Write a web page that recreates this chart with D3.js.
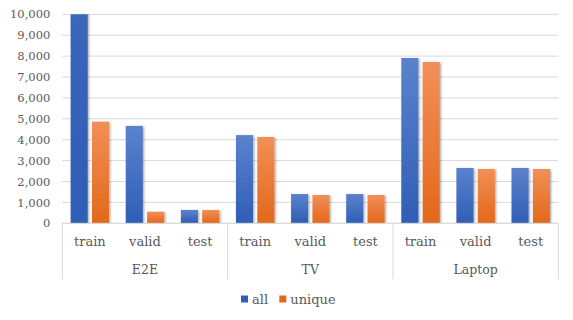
<!DOCTYPE html>
<html>
<head>
<meta charset="utf-8">
<script src="https://cdn.jsdelivr.net/npm/d3@7"></script>
<style>
  body { margin: 0; background: #fff; }
  text { font-family: "DejaVu Serif", serif; fill: #595959; }
</style>
</head>
<body>
<div id="chart"></div>
<script>
// data
var groups = ["E2E", "TV", "Laptop"];
var splits = ["train", "valid", "test"];
var series = ["all", "unique"];
// E2E train "all" runs off the top of the axis in the picture
var allCounts    = [42000, 4660, 640, 4220, 1400, 1400, 7910, 2645, 2645];
var uniqueCounts = [4860, 555, 635, 4130, 1355, 1355, 7720, 2600, 2600];
var yTicks = [0, 1000, 2000, 3000, 4000, 5000, 6000, 7000, 8000, 9000, 10000];
var colors = { all: ["#5b82cc", "#2f5eb6"], unique: ["#f28f58", "#e3681a"] };

var width = 573, height = 320;
var margin = { left: 62.3, right: 14.7, top: 14.3, bottom: 96.7 };
var plotW = width - margin.left - margin.right,
    plotH = height - margin.top - margin.bottom;

var svg = d3.select("#chart").append("svg")
    .attr("width", width)
    .attr("height", height);

var defs = svg.append("defs");
series.forEach(function(s) {
    var g = defs.append("linearGradient")
        .attr("id", "grad-" + s)
        .attr("x1", 0).attr("y1", 0).attr("x2", 0).attr("y2", 1);
    g.append("stop").attr("offset", "0%").attr("stop-color", colors[s][0]);
    g.append("stop").attr("offset", "100%").attr("stop-color", colors[s][1]);
});
var shadow = defs.append("filter").attr("id", "shadow")
    .attr("x", "-30%").attr("y", "-5%").attr("width", "160%").attr("height", "110%");
shadow.append("feDropShadow")
    .attr("dx", 1.2).attr("dy", 0.8).attr("stdDeviation", 1.2)
    .attr("flood-color", "#000").attr("flood-opacity", 0.35);
defs.append("clipPath").attr("id", "plotClip")
    .append("rect").attr("x", -5).attr("y", 0).attr("width", plotW + 10).attr("height", plotH);

var chartGroup = svg.append("g")
    .attr("transform", `translate(${margin.left}, ${margin.top})`);

// rows: one per group/split
var rows = [];
groups.forEach(function(g, gi) {
    splits.forEach(function(sp, si) {
        var i = gi * splits.length + si;
        rows.push({ key: g + "|" + sp, group: g, split: sp, all: allCounts[i], unique: uniqueCounts[i] });
    });
});

var x0 = d3.scaleBand().domain(rows.map(d => d.key)).range([0, plotW]).padding(0);
var x1 = d3.scaleBand().domain(series).range([0, x0.bandwidth()])
    .paddingInner(0.2).paddingOuter(0.39);
var yLinearScale = d3.scaleLinear().domain([0, 10000]).range([plotH, 0]);

// gridlines
chartGroup.append("g")
    .selectAll("line")
    .data(yTicks)
    .enter()
    .append("line")
    .attr("x1", 0).attr("x2", plotW)
    .attr("y1", d => yLinearScale(d)).attr("y2", d => yLinearScale(d))
    .attr("stroke", "#d9d9d9").attr("stroke-width", 1);

// y axis labels
var leftAxis = d3.axisLeft(yLinearScale).tickValues(yTicks).tickFormat(d3.format(",")).tickSize(0).tickPadding(12);
var yAxis = chartGroup.append("g").call(leftAxis);
yAxis.select(".domain").remove();
yAxis.selectAll("text")
    .attr("font-family", "DejaVu Serif")
    .attr("font-size", "11.5px")
    .attr("fill", "#595959");

// bars
var barGroups = chartGroup.append("g")
    .attr("clip-path", "url(#plotClip)")
    .selectAll("g")
    .data(rows)
    .enter()
    .append("g")
    .attr("transform", d => `translate(${x0(d.key)}, 0)`);

barGroups.selectAll("rect")
    .data(d => series.map(s => ({ s: s, v: d[s] })))
    .enter()
    .append("rect")
    .attr("x", d => x1(d.s))
    .attr("width", x1.bandwidth())
    .attr("y", d => yLinearScale(d.v))
    .attr("height", d => plotH - yLinearScale(d.v))
    .attr("fill", d => "url(#grad-" + d.s + ")")
    .attr("filter", "url(#shadow)");

// category axis
var catAxis = chartGroup.append("g").attr("transform", `translate(0, ${plotH})`);
catAxis.append("line")
    .attr("x1", 0).attr("x2", plotW).attr("y1", 0).attr("y2", 0)
    .attr("stroke", "#d9d9d9");

var groupW = x0.step() * splits.length;
catAxis.selectAll(".sep")
    .data(d3.range(groups.length + 1))
    .enter()
    .append("line")
    .attr("x1", d => d * groupW).attr("x2", d => d * groupW)
    .attr("y1", 0).attr("y2", 56)
    .attr("stroke", "#d9d9d9");

catAxis.selectAll(".split")
    .data(rows)
    .enter()
    .append("text")
    .attr("x", d => x0(d.key) + x0.bandwidth() / 2)
    .attr("y", 23)
    .attr("text-anchor", "middle")
    .attr("font-size", "13px")
    .text(d => d.split);

catAxis.selectAll(".grp")
    .data(groups)
    .enter()
    .append("text")
    .attr("x", (d, i) => i * groupW + groupW / 2)
    .attr("y", 51)
    .attr("text-anchor", "middle")
    .attr("font-size", "12.5px")
    .text(d => d);

// legend
var legend = svg.append("g").attr("transform", "translate(241, 299)");
var legendX = [0, 38.3];
series.forEach(function(s, i) {
    var item = legend.append("g").attr("transform", `translate(${legendX[i]}, 0)`);
    item.append("rect")
        .attr("x", 0).attr("y", -3.5).attr("width", 7).attr("height", 7)
        .attr("fill", colors[s][1]);
    item.append("text")
        .attr("x", 11).attr("y", 4.5)
        .attr("font-size", "13px")
        .text(s);
});
</script>
</body>
</html>
